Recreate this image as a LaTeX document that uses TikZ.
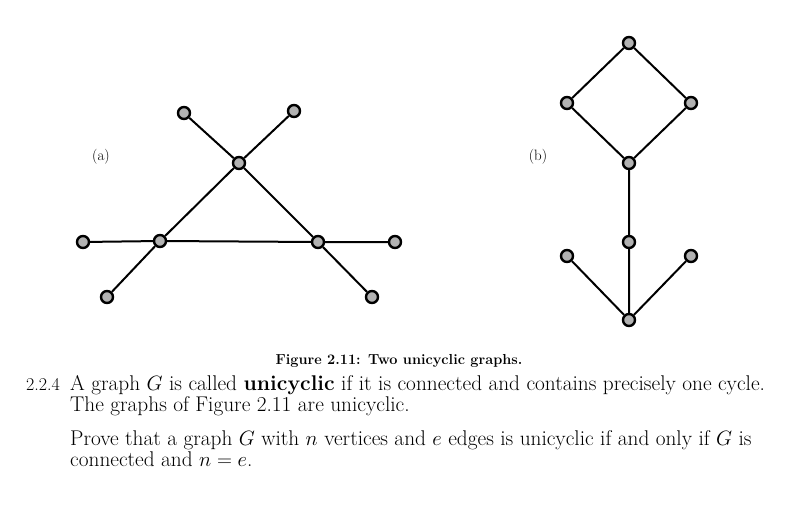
\documentclass[tikz,border=0pt]{standalone}
\begin{document}
\begin{tikzpicture}[x=1pt,y=-1pt,
  vtx/.style={circle,draw=black,fill=gray!60,line width=2.4pt,inner sep=0pt,minimum size=12pt},
  edge/.style={line width=2pt},
  body/.style={anchor=base west,inner sep=0pt,font=\fontsize{21.3}{24}\selectfont}]
\useasboundingbox (0,0) rectangle (788,522);
% (a)
\node[vtx] (a1) at (184,113) {};
\node[vtx] (a2) at (294,111) {};
\node[vtx] (a3) at (239,163) {};
\node[vtx] (a4) at (83,242) {};
\node[vtx] (a5) at (160,241) {};
\node[vtx] (a6) at (318,242) {};
\node[vtx] (a7) at (395,242) {};
\node[vtx] (a8) at (107,297) {};
\node[vtx] (a9) at (372,297) {};
\draw[edge] (a1)--(a3) (a2)--(a3) (a3)--(a5) (a3)--(a6) (a4)--(a5) (a5)--(a6) (a6)--(a7) (a5)--(a8) (a6)--(a9);
% (b)
\node[vtx] (b1) at (629,43) {};
\node[vtx] (b2) at (567,103) {};
\node[vtx] (b3) at (691,103) {};
\node[vtx] (b4) at (629,163) {};
\node[vtx] (b5) at (629,242) {};
\node[vtx] (b6) at (567,256) {};
\node[vtx] (b7) at (691,256) {};
\node[vtx] (b8) at (629,320) {};
\draw[edge] (b1)--(b2) (b1)--(b3) (b2)--(b4) (b3)--(b4) (b4)--(b5) (b5)--(b8) (b6)--(b8) (b7)--(b8);
\node[font=\fontsize{15}{17}\selectfont] (la) at (101,157) {(a)};
\node[font=\fontsize{15}{17}\selectfont] (lb) at (538,157) {(b)};
\node[font=\fontsize{14.5}{16}\selectfont\bfseries] (cap) at (399,361) {Figure 2.11: Two unicyclic graphs.};
\node[body,font=\fontsize{18}{20}\selectfont] (n) at (26,390) {2.2.4};
\node[body] (l1) at (70,390) {A graph $G$ is called \textbf{unicyclic} if it is connected and contains precisely one cycle.};
\node[body] (l2) at (70,411) {The graphs of Figure 2.11 are unicyclic.};
\node[body] (l3) at (70,445) {Prove that a graph $G$ with $n$ vertices and $e$ edges is unicyclic if and only if $G$ is};
\node[body] (l4) at (70,466) {connected and $n=e$.};
\end{tikzpicture}
\end{document}
